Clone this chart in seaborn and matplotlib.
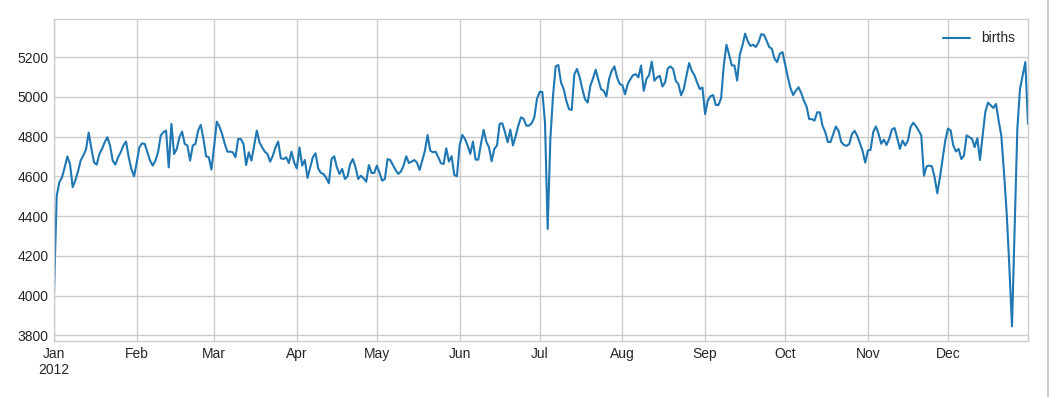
import numpy as np
import pandas as pd
import matplotlib
matplotlib.use("Agg")
import matplotlib.pyplot as plt
import seaborn as sns
from matplotlib.lines import Line2D

# ---- data (average births per calendar day) ----
jan = [4010, 4500, 4570, 4595, 4645, 4700, 4662, 4545, 4580, 4625,
       4680, 4705, 4735, 4820, 4740, 4670, 4659, 4712, 4738, 4771,
       4797, 4755, 4679, 4659, 4696, 4721, 4755, 4775, 4696, 4637, 4600]
feb = [4670, 4746, 4766, 4763, 4721, 4679, 4654, 4679, 4721, 4805,
       4822, 4830, 4645, 4864, 4712, 4738, 4797, 4825, 4763, 4755,
       4679, 4755, 4763, 4830, 4859, 4788, 4701, 4696, 4634]
mar = [4750, 4875, 4850, 4813, 4763, 4724, 4724, 4721, 4696, 4788,
       4788, 4763, 4657, 4721, 4679, 4755, 4830, 4771, 4746, 4724,
       4712, 4674, 4704, 4746, 4775, 4691, 4687, 4696, 4667, 4724, 4670]
apr = [4640, 4745, 4654, 4682, 4592, 4645, 4696, 4716, 4640, 4617,
       4612, 4592, 4565, 4687, 4701, 4645, 4612, 4637, 4587, 4600,
       4662, 4687, 4645, 4587, 4603, 4590, 4573, 4657, 4617, 4617]
may = [4654, 4617, 4578, 4587, 4687, 4682, 4657, 4632, 4612, 4624,
       4654, 4701, 4667, 4674, 4682, 4670, 4632, 4679, 4729, 4808,
       4729, 4721, 4724, 4696, 4666, 4662, 4741, 4674, 4701, 4607, 4600]
jun = [4755, 4808, 4788, 4755, 4713, 4775, 4684, 4684, 4763, 4834,
       4775, 4746, 4676, 4738, 4755, 4864, 4867, 4822, 4771, 4835,
       4755, 4802, 4855, 4897, 4889, 4855, 4855, 4867, 4897, 4990]
jul = [5025, 5025, 4870, 4335, 4786, 5005, 5153, 5160, 5072, 5039,
       4980, 4938, 4934, 5114, 5140, 5098, 5039, 4988, 4971, 5056,
       5093, 5136, 5086, 5039, 5030, 5002, 5089, 5131, 5153, 5098, 5064]
aug = [5059, 5013, 5064, 5089, 5109, 5114, 5098, 5157, 5030, 5089,
       5109, 5177, 5081, 5098, 5106, 5052, 5072, 5143, 5153, 5140,
       5081, 5064, 5008, 5039, 5106, 5170, 5131, 5109, 5072, 5039, 5047]
sep = [4913, 4981, 5003, 5009, 4959, 4959, 4993, 5158, 5262, 5212,
       5158, 5158, 5082, 5212, 5259, 5318, 5279, 5256, 5262, 5251,
       5273, 5315, 5313, 5284, 5251, 5242, 5192, 5175, 5217, 5225]
oct_ = [5163, 5099, 5043, 5009, 5031, 5048, 5020, 4981, 4952, 4888,
        4888, 4880, 4922, 4922, 4854, 4824, 4773, 4773, 4812, 4851,
        4829, 4773, 4758, 4753, 4762, 4812, 4829, 4804, 4767, 4728, 4669]
nov = [4730, 4733, 4823, 4851, 4814, 4764, 4784, 4758, 4789, 4836,
       4843, 4792, 4738, 4780, 4755, 4780, 4848, 4870, 4853, 4831,
       4806, 4603, 4650, 4654, 4650, 4595, 4515, 4595, 4687, 4780]
dec = [4840, 4831, 4755, 4725, 4738, 4687, 4704, 4806, 4797, 4789,
       4747, 4792, 4682, 4806, 4924, 4971, 4958, 4944, 4964, 4880,
       4804, 4620, 4418, 4148, 3845, 4350, 4838, 5040, 5107, 5175, 4863]

month_labels = ["Jan\n2012", "Feb", "Mar", "Apr", "May", "Jun",
                "Jul", "Aug", "Sep", "Oct", "Nov", "Dec"]
y_ticks = [3800, 4000, 4200, 4400, 4600, 4800, 5000, 5200]

births = jan + feb + mar + apr + may + jun + jul + aug + sep + oct_ + nov + dec
dates = pd.date_range("2012-01-01", "2012-12-31", freq="D")
df = pd.DataFrame({"date": dates, "births": births})

# ---- style ----
sns.set_style("whitegrid")
plt.rcParams["font.family"] = ["Liberation Sans", "DejaVu Sans"]
plt.rcParams["font.size"] = 10

fig = plt.figure(figsize=(10.5, 3.97), dpi=100)
ax = fig.add_axes([54 / 1050, 1 - 341 / 397, (1028 - 54) / 1050, (341 - 19) / 397])

sns.lineplot(data=df, x="date", y="births", ax=ax, color="#1f77b4",
             linewidth=1.5, label="births")

ax.set_xlim(dates[0], dates[-1])
month_starts = pd.date_range("2012-01-01", periods=12, freq="MS")
ax.set_xticks(month_starts)
ax.set_xticklabels(month_labels, fontsize=10, color="#262626")
ax.set_yticks(y_ticks)
ax.set_yticklabels([str(v) for v in y_ticks], fontsize=10, color="#262626")
ax.set_xlabel("")
ax.set_ylabel("")
ax.grid(True, color="#cccccc", linewidth=1)
for s in ax.spines.values():
    s.set_edgecolor("#cccccc")
    s.set_linewidth(1)
ax.tick_params(length=0, pad=4)
ax.legend(loc="upper right", frameon=False, fontsize=10)

fig.add_artist(Line2D([1047.5 / 1050, 1047.5 / 1050], [0, 1], color="#c0c0c0",
                      linewidth=1.2, transform=fig.transFigure))

fig.savefig("out.png", dpi=100)
